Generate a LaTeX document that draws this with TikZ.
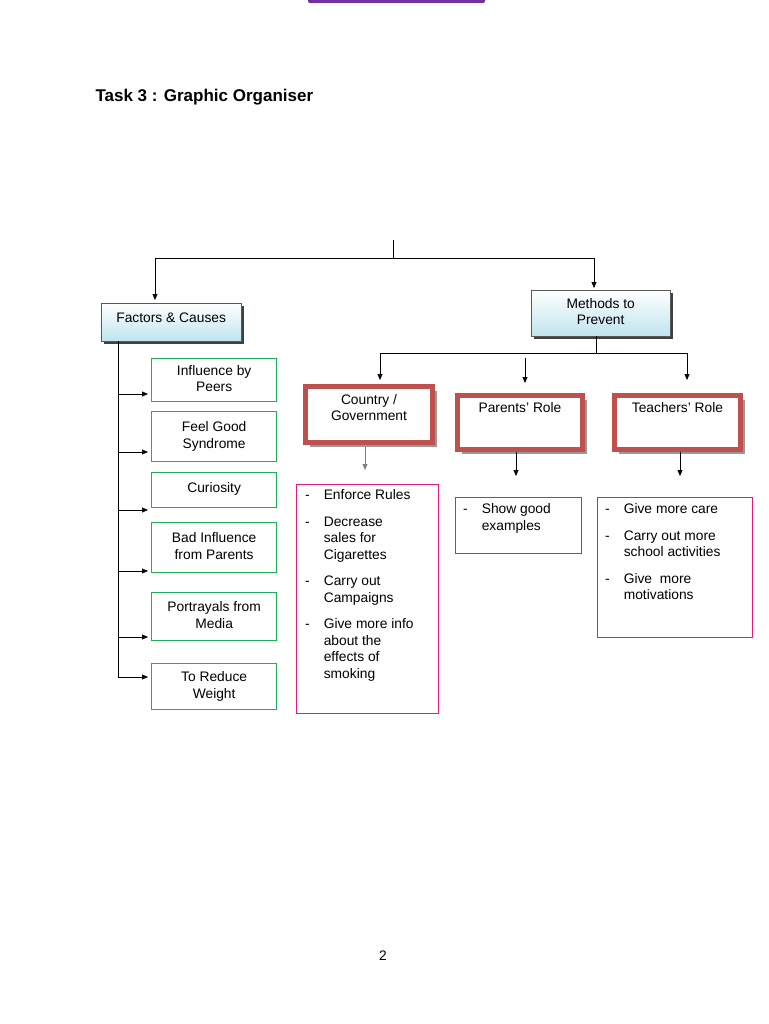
\documentclass[tikz,border=0pt]{standalone}
\usepackage{fontspec}
\setmainfont{Liberation Sans}
\usetikzlibrary{arrows.meta,shadows,calc}

\definecolor{boxred}{HTML}{C0504D}
\definecolor{boxpink}{HTML}{E5197E}
\definecolor{boxgreen}{HTML}{21B05A}
\definecolor{boxblue}{HTML}{BFE4EE}
\definecolor{barpurple}{HTML}{7030A0}

\tikzset{
  txt/.style={font=\fontsize{13.8}{16.5}\selectfont},
  arr/.style={-{Triangle[length=6pt,width=5pt]}},
  bbox/.style={txt,draw=gray!70!black,top color=white,bottom color=boxblue,
    drop shadow={shadow xshift=3pt,shadow yshift=-3pt,fill=black!75,opacity=1},
    anchor=north west,align=center,inner sep=0pt},
  rbox/.style={draw=boxred,line width=5pt,fill=white,anchor=north west,
    drop shadow={shadow xshift=4pt,shadow yshift=-4pt,fill=black!40,opacity=1}},
  pbox/.style={draw=boxpink,line width=1.3pt,anchor=north west},
  gbox/.style={txt,draw=boxgreen,line width=1.3pt,anchor=north west,align=center,
    minimum width=125pt,inner sep=0pt},
  lst/.style={txt,anchor=north west,align=left,inner sep=0pt},
}

\newcommand{\dashlist}[1]{\begin{tabular}{@{}l@{\hspace{14pt}}l@{}}#1\end{tabular}}
\newcommand{\twol}[3]{\raisebox{#1}{\begin{tabular}{@{}c@{}}#2\\#3\end{tabular}}}

\begin{document}
\begin{tikzpicture}[x=1pt,y=-1pt]
\useasboundingbox (0,0) rectangle (768,1024);

% purple tab at top of page
\fill[barpurple,rounded corners=2pt] (308,-4) rectangle (485,3);

% title and page number
\node[anchor=west,font=\bfseries\fontsize{17}{20}\selectfont] (title) at (92,97) {Task 3 : Graphic Organiser};
\node[txt] (page) at (383,956) {2};

% main boxes
\node[bbox,minimum width=140pt,minimum height=38pt] (factors) at (101,303)
  {\raisebox{9pt}{Factors \& Causes}};
\node[bbox,minimum width=139pt,minimum height=46pt] (methods) at (531,290)
  {\twol{2pt}{Methods to}{Prevent}};

% top tree
\coordinate (top) at (393,240);
\coordinate (split) at (393,258);
\coordinate (fend) at (155,300);
\coordinate (mend) at (594,288);
\draw (top) -- (split);
\draw[arr] (split) -| (fend);
\draw[arr] (split) -| (mend);

% methods branches
\node[rbox,minimum width=127pt,minimum height=56pt] (country) at (303,384) {};
\node[txt,align=center] (countryt) at ($(country.north)+(0,25)$) {\twol{0pt}{Country /}{Government}};
\node[rbox,minimum width=125pt,minimum height=54pt] (parents) at (455,393) {};
\node[txt] (parentst) at ($(parents.north)+(0,15)$) {Parents’ Role};
\node[rbox,minimum width=126pt,minimum height=54pt] (teachers) at (612,393) {};
\node[txt] (teacherst) at ($(teachers.north)+(0,15)$) {Teachers’ Role};

\coordinate (msplit) at (596,353);
\coordinate (cend) at (380,380);
\coordinate (tend) at (687,380);
\coordinate (pstart) at (525,358);
\coordinate (pend) at (525,383);
\draw (methods.south -| msplit) -- (msplit);
\draw[arr] (msplit) -| (cend);
\draw[arr] (msplit) -| (tend);
\draw[arr] (pstart) -- (pend);

% prevention lists
\node[pbox,minimum width=142pt,minimum height=229pt] (clist) at (296,484) {};
\node[lst] (clistt) at (305,488) {\dashlist{
  - & Enforce Rules\\[10pt]
  - & Decrease\\ & sales for\\ & Cigarettes\\[10pt]
  - & Carry out\\ & Campaigns\\[10pt]
  - & Give more info\\ & about the\\ & effects of\\ & smoking}};
\node[pbox,minimum width=126pt,minimum height=56pt] (plist) at (455,497) {};
\node[lst] (plistt) at (463,502) {\dashlist{- & Show good\\ & examples}};
\node[pbox,minimum width=155pt,minimum height=140pt] (tlist) at (597,497) {};
\node[lst] (tlistt) at (605,502) {\dashlist{
  - & Give more care\\[10pt]
  - & Carry out more\\ & school activities\\[10pt]
  - & Give\ \ more\\ & motivations}};

\coordinate (ca) at (365,447); \coordinate (cb) at (365,470);
\coordinate (pa) at (516,452); \coordinate (pb) at (516,476);
\coordinate (ta) at (680,452); \coordinate (tb) at (680,476);
\draw[arr,gray] (ca) -- (cb);
\draw[arr] (pa) -- (pb);
\draw[arr] (ta) -- (tb);

% factors list
\node[gbox,minimum height=43pt] (peers) at (151,358) {\twol{0pt}{Influence by}{Peers}};
\node[gbox,minimum height=50pt] (feel) at (151,411) {\twol{8pt}{Feel Good}{Syndrome}};
\node[gbox,minimum height=35pt] (curio) at (151,472) {\raisebox{5pt}{Curiosity}};
\node[gbox,minimum height=50pt] (badinf) at (151,522) {\twol{5pt}{Bad Influence}{from Parents}};
\node[gbox,minimum height=48pt] (media) at (151,592) {\twol{3pt}{Portrayals from}{Media}};
\node[gbox,minimum height=46pt] (weight) at (151,663) {\twol{0pt}{To Reduce}{Weight}};

\coordinate (spine) at (118,341);
\coordinate (spineend) at (118,677);
\draw (spine) -- (spineend);
\foreach \n/\yy in {peers/394,feel/452,curio/510,badinf/571,media/637,weight/677}
  \draw[arr] (spine |- 0,\yy) -- ($(\n.west |- 0,\yy)+(-3,0)$);
\end{tikzpicture}
\end{document}
